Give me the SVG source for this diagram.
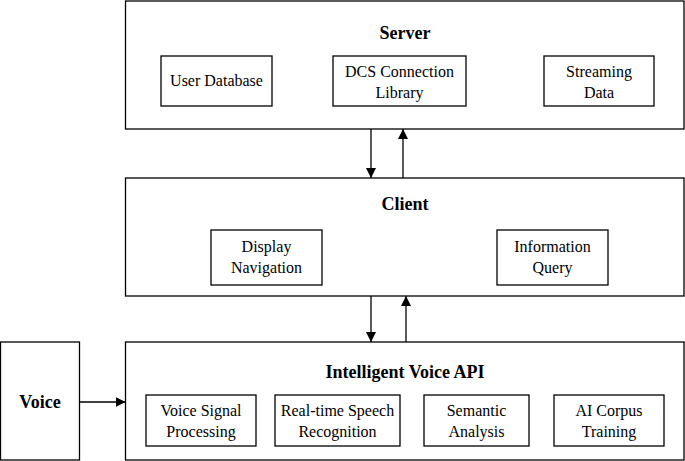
<svg xmlns="http://www.w3.org/2000/svg" width="685" height="461" viewBox="0 0 685 461">
<style>
rect{fill:#fff;stroke:#000;stroke-width:1.3}
.t{font-family:"Liberation Serif","Times New Roman",serif;font-size:16px;text-anchor:middle;fill:#000}
.b{font-family:"Liberation Serif","Times New Roman",serif;font-size:18px;font-weight:bold;text-anchor:middle;fill:#000}
.c{stroke:#000;stroke-width:1.3;fill:none;marker-end:url(#ah)}
</style>
<defs>
<marker id="ah" viewBox="0 0 10 10" refX="10" refY="5" markerWidth="10" markerHeight="10" markerUnits="userSpaceOnUse" orient="auto"><path d="M0,0L10,5L0,10Z" fill="#000"/></marker>
</defs>
<g id="server">
<rect x="125.5" y="1" width="558.5" height="128"/>
<text class="b" x="405" y="39">Server</text>
</g>
<g id="userdb"><rect x="161" y="56" width="111" height="50"/><text class="t" x="216.5" y="86">User Database</text></g>
<g id="dcs"><rect x="333" y="56" width="133" height="50"/><text class="t" x="399.5" y="77">DCS Connection</text><text class="t" x="399.5" y="98">Library</text></g>
<g id="streaming"><rect x="544" y="56" width="110" height="50"/><text class="t" x="599" y="77">Streaming</text><text class="t" x="599" y="98">Data</text></g>
<g id="client">
<rect x="125.5" y="178" width="558.5" height="118"/>
<text class="b" x="405" y="210">Client</text>
</g>
<g id="display"><rect x="211" y="230" width="111" height="55"/><text class="t" x="266.5" y="252">Display</text><text class="t" x="266.5" y="273">Navigation</text></g>
<g id="info"><rect x="497" y="230" width="111" height="55"/><text class="t" x="552.5" y="252">Information</text><text class="t" x="552.5" y="273">Query</text></g>
<g id="api">
<rect x="125.5" y="342" width="558.5" height="118"/>
<text class="b" x="405" y="378">Intelligent Voice API</text>
</g>
<g id="vsp"><rect x="146" y="395" width="110" height="51"/><text class="t" x="201" y="416">Voice Signal</text><text class="t" x="201" y="437">Processing</text></g>
<g id="rtsr"><rect x="275" y="395" width="125" height="51"/><text class="t" x="337.5" y="416">Real-time Speech</text><text class="t" x="337.5" y="437">Recognition</text></g>
<g id="sem"><rect x="424" y="395" width="105" height="51"/><text class="t" x="476.5" y="416">Semantic</text><text class="t" x="476.5" y="437">Analysis</text></g>
<g id="aic"><rect x="554" y="395" width="110" height="51"/><text class="t" x="609" y="416">AI Corpus</text><text class="t" x="609" y="437">Training</text></g>
<g id="voice">
<rect x="0.5" y="342" width="79" height="118"/>
<text class="b" x="40" y="408">Voice</text>
</g>
<g id="connectors">
<line class="c" x1="371" y1="129" x2="371" y2="178"/>
<line class="c" x1="403" y1="178" x2="403" y2="129"/>
<line class="c" x1="371" y1="296" x2="371" y2="342"/>
<line class="c" x1="406" y1="342" x2="406" y2="296"/>
<line class="c" x1="79.5" y1="402" x2="125.5" y2="402"/>
</g>
</svg>
